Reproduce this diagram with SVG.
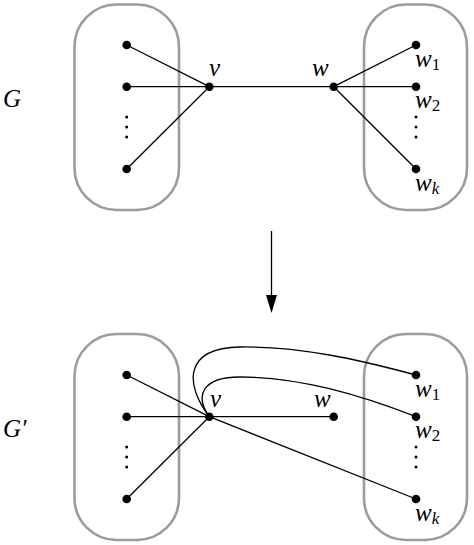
<svg xmlns="http://www.w3.org/2000/svg" width="474" height="545" viewBox="0 0 474 545">
<style>
.box{fill:none;stroke:#9c9c9c;stroke-width:2.6}
.e{fill:none;stroke:#000;stroke-width:1.3}
.n{fill:#000}
.d{fill:#000}
.lbl{font-family:"Liberation Serif","Times New Roman",serif;font-style:italic;font-size:25px;fill:#000}
.sub{font-family:"Liberation Serif","Times New Roman",serif;font-size:17px;font-style:normal}
.subi{font-family:"Liberation Serif","Times New Roman",serif;font-size:17px;font-style:italic}
</style>
<rect width="474" height="545" fill="#fff"/>
<g id="boxes">
<rect id="box-top-left" class="box" x="74.5" y="4.5" width="104.5" height="205.5" rx="42" ry="42"/>
<rect id="box-top-right" class="box" x="364" y="4.5" width="103" height="205.5" rx="42" ry="42"/>
<rect id="box-bot-left" class="box" x="74.5" y="334" width="104.5" height="206" rx="42" ry="42"/>
<rect id="box-bot-right" class="box" x="364" y="334" width="103" height="206" rx="42" ry="42"/>
</g>
<g id="connectors">
<line class="e" x1="126.7" y1="45" x2="209.3" y2="86.7"/>
<line class="e" x1="126.7" y1="86.7" x2="209.3" y2="86.7"/>
<line class="e" x1="126.7" y1="169" x2="209.3" y2="86.7"/>
<line class="e" x1="209.3" y1="86.7" x2="333.7" y2="86.7"/>
<line class="e" x1="333.7" y1="86.7" x2="416" y2="45"/>
<line class="e" x1="333.7" y1="86.7" x2="416" y2="86.7"/>
<line class="e" x1="333.7" y1="86.7" x2="416" y2="169"/>
<line class="e" x1="271.5" y1="231" x2="271.5" y2="297"/>
<polygon class="n" points="266,295 277,295 271.5,313"/>
<line class="e" x1="126.7" y1="375" x2="209.3" y2="416.7"/>
<line class="e" x1="126.7" y1="416.7" x2="209.3" y2="416.7"/>
<line class="e" x1="126.7" y1="499" x2="209.3" y2="416.7"/>
<line class="e" x1="209.3" y1="416.7" x2="333.7" y2="416.7"/>
<line class="e" x1="209.3" y1="416.7" x2="416" y2="499"/>
<path class="e" d="M209.3,416.7 C185,385 183,348 240,347 C300,346 360,360 416,375"/>
<path class="e" d="M209.3,416.7 C194,395 203,377 240,377 C300,377 360,395 416,416.7"/>
</g>
<g id="G">
<text class="lbl" x="3" y="107">G</text>
<circle id="Ga1" class="n" cx="126.7" cy="45" r="4.3"/>
<circle id="Ga2" class="n" cx="126.7" cy="86.7" r="4.3"/>
<circle id="Ga3" class="n" cx="126.7" cy="169" r="4.3"/>
<circle class="d" cx="126.7" cy="117" r="1.5"/>
<circle class="d" cx="126.7" cy="127" r="1.5"/>
<circle class="d" cx="126.7" cy="137" r="1.5"/>
<g id="Gv"><circle class="n" cx="209.3" cy="86.7" r="4.3"/><text class="lbl" x="209" y="76">v</text></g>
<g id="Gw"><circle class="n" cx="333.7" cy="86.7" r="4.3"/><text class="lbl" x="312" y="76">w</text></g>
<g id="Gw1"><circle class="n" cx="416" cy="45" r="4.3"/><text class="lbl" x="415" y="67">w<tspan class="sub" dy="3">1</tspan></text></g>
<g id="Gw2"><circle class="n" cx="416" cy="86.7" r="4.3"/><text class="lbl" x="415" y="108">w<tspan class="sub" dy="3">2</tspan></text></g>
<circle class="d" cx="416" cy="117" r="1.5"/>
<circle class="d" cx="416" cy="127" r="1.5"/>
<circle class="d" cx="416" cy="137" r="1.5"/>
<g id="Gwk"><circle class="n" cx="416" cy="169" r="4.3"/><text class="lbl" x="415" y="191">w<tspan class="subi" dy="3">k</tspan></text></g>
</g>
<g id="Gprime">
<text class="lbl" x="3" y="437">G′</text>
<circle id="Hb1" class="n" cx="126.7" cy="375" r="4.3"/>
<circle id="Hb2" class="n" cx="126.7" cy="416.7" r="4.3"/>
<circle id="Hb3" class="n" cx="126.7" cy="499" r="4.3"/>
<circle class="d" cx="126.7" cy="447" r="1.5"/>
<circle class="d" cx="126.7" cy="457" r="1.5"/>
<circle class="d" cx="126.7" cy="467" r="1.5"/>
<g id="Hv"><circle class="n" cx="209.3" cy="416.7" r="4.3"/><text class="lbl" x="210" y="407">v</text></g>
<g id="Hw"><circle class="n" cx="333.7" cy="416.7" r="4.3"/><text class="lbl" x="314" y="407">w</text></g>
<g id="Hw1"><circle class="n" cx="416" cy="375" r="4.3"/><text class="lbl" x="415" y="397">w<tspan class="sub" dy="3">1</tspan></text></g>
<g id="Hw2"><circle class="n" cx="416" cy="416.7" r="4.3"/><text class="lbl" x="415" y="438">w<tspan class="sub" dy="3">2</tspan></text></g>
<circle class="d" cx="416" cy="447" r="1.5"/>
<circle class="d" cx="416" cy="457" r="1.5"/>
<circle class="d" cx="416" cy="467" r="1.5"/>
<g id="Hwk"><circle class="n" cx="416" cy="499" r="4.3"/><text class="lbl" x="415" y="521">w<tspan class="subi" dy="3">k</tspan></text></g>
</g>
</svg>
